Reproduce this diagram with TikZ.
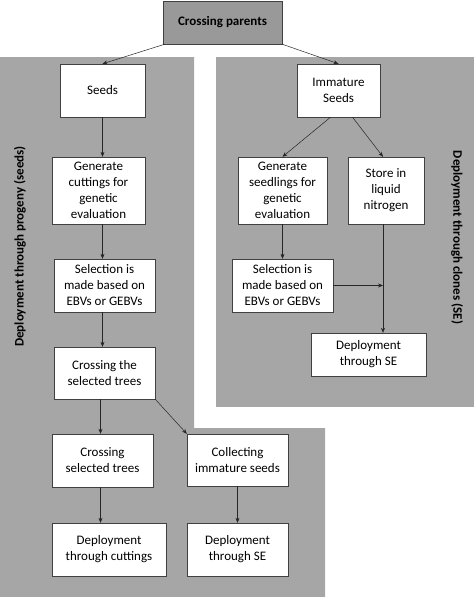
\documentclass[tikz,border=0pt]{standalone}
\usepackage{fontspec}
\setmainfont{Carlito}
\usepackage{tikz}
\usetikzlibrary{calc,arrows.meta}

\definecolor{panelgray}{HTML}{A6A6A6}
\definecolor{boxline}{HTML}{404040}
\tikzset{
  box/.style={draw=boxline, fill=white, align=center, inner sep=1pt,
              font=\fontsize{13}{16}\selectfont},
  flow/.style={-{Stealth[length=5pt,width=4pt]}, draw=black!85, line width=0.5pt},
  sidelabel/.style={font=\fontsize{13}{16}\selectfont\bfseries}
}

\begin{document}
\begin{tikzpicture}[x=1pt,y=-1pt]
  \useasboundingbox (0,0) rectangle (474,597);
  % grey panels
  \fill[panelgray] (0,57) -- (194,57) -- (194,428) -- (325,428) -- (325,597) -- (0,597) -- cycle;
  \fill[panelgray] (216,57) rectangle (474,407);

  % top box
  \node[box, fill=panelgray!92!black, font=\fontsize{13}{16}\selectfont\bfseries,
        minimum width=119pt, minimum height=43pt] (parents) at (222.5,22.5) {Crossing parents};

  % left branch
  \node[box, minimum width=85pt, minimum height=53pt] (seeds) at (102.5,90.5) {Seeds};
  \node[box, minimum width=93pt, minimum height=67pt] (gencut) at (98.5,190.5) {Generate\\cuttings for\\genetic\\evaluation};
  \node[box, minimum width=101pt, minimum height=53pt] (selL) at (104.5,285.5) {Selection is\\made based on\\EBVs or GEBVs};
  \node[box, minimum width=101pt, minimum height=52pt] (crossthe) at (104.5,373) {Crossing the\\selected trees};
  \node[box, minimum width=101pt, minimum height=53pt] (crosssel) at (102.5,460.5) {Crossing\\selected trees};
  \node[box, minimum width=114pt, minimum height=53pt] (depcut) at (109,549.5) {Deployment\\through cuttings};
  \node[box, minimum width=101pt, minimum height=52pt] (collect) at (237.5,460) {Collecting\\immature seeds};
  \node[box, minimum width=101pt, minimum height=53pt] (depSEl) at (237.5,549.5) {Deployment\\through SE};

  % right branch
  \node[box, minimum width=83pt, minimum height=53pt] (immat) at (338.5,90.5) {Immature\\Seeds};
  \node[box, minimum width=89pt, minimum height=67pt] (genseed) at (282.5,190.5) {Generate\\seedlings for\\genetic\\evaluation};
  \node[box, minimum width=76pt, minimum height=67pt] (store) at (386,190.5) {Store in\\liquid\\nitrogen};
  \node[box, minimum width=101pt, minimum height=53pt] (selR) at (282.5,285.5) {Selection is\\made based on\\EBVs or GEBVs};
  \node[box, minimum width=115pt, minimum height=43pt] (depSEr) at (368.5,354.5) {Deployment\\through SE};

  % side labels
  \node[sidelabel, rotate=90] (lblL) at (20,246.5) {Deployment through progeny (seeds)};
  \node[sidelabel, rotate=-90] (lblR) at (457,237.5) {Deployment through clones (SE)};

  % arrow anchors
  \coordinate (leftline) at ($(crossthe.south)+(-4,0)$);
  \coordinate (storeout) at ($(store.south)+(-3,0)$);
  \coordinate (immatL) at ($(immat.south)+(-8,0)$);
  \coordinate (immatR) at ($(immat.south)+(14,0)$);
  \coordinate (storein) at ($(store.north)+(-3,0)$);
  \coordinate (parentsL) at ($(parents.south west)+(2,0)$);

  % arrows
  \draw[flow] (parentsL) -- (seeds.north);
  \draw[flow] (parents.south east) -- (immat.north);
  \draw[flow] (seeds.south) -- (seeds.south |- gencut.north);
  \draw[flow] (seeds.south |- gencut.south) -- (seeds.south |- selL.north);
  \draw[flow] (seeds.south |- selL.south) -- (seeds.south |- crossthe.north);
  \draw[flow] (leftline) -- (leftline |- crosssel.north);
  \draw[flow] (crossthe.south east) -- (collect.north west);
  \draw[flow] (leftline |- crosssel.south) -- (leftline |- depcut.north);
  \draw[flow] (collect) -- (depSEl);
  \draw[flow] (immatL) -- (genseed.north);
  \draw[flow] (immatR) -- (storein);
  \draw[flow] (genseed) -- (selR);
  \draw[flow] (storeout) -- (storeout |- depSEr.north);
  \draw[flow] (selR.east) -- (storeout |- selR.east);
\end{tikzpicture}
\end{document}
